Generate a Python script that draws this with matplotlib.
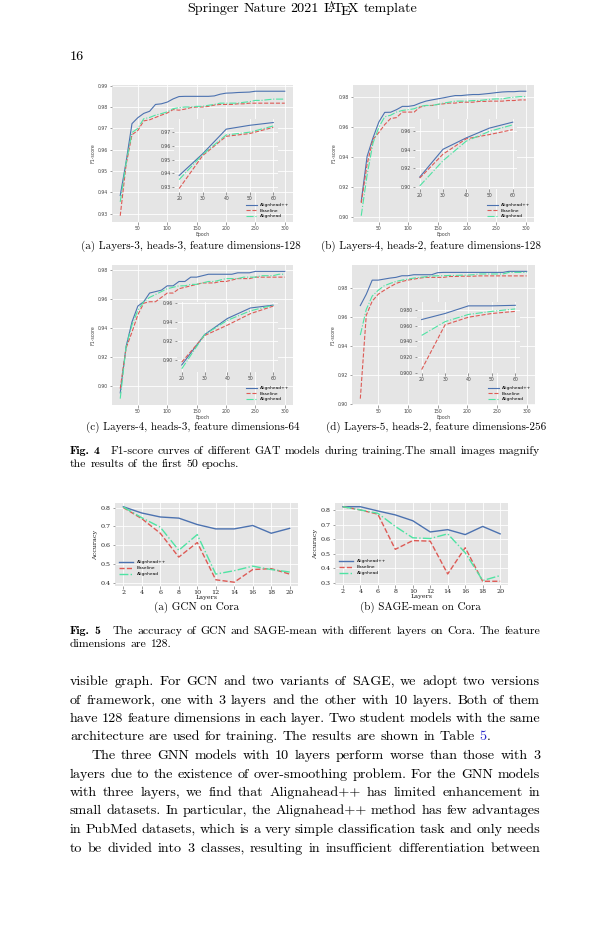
import math
import matplotlib
matplotlib.use("Agg")
import matplotlib.pyplot as plt
from matplotlib.ticker import FormatStrFormatter
from matplotlib.font_manager import FontProperties

W, H = 610, 925

# ---------------- data ----------------
epochs = [20, 30, 40, 50, 60, 70, 80, 90, 100, 110, 120, 130, 140, 150, 160,
          170, 180, 190, 200, 210, 220, 230, 240, 250, 260, 270, 280, 290, 300]
inset_n = 5
gat_xticks = [50, 100, 150, 200, 250, 300]
inset_xticks = [20, 30, 40, 50, 60]
series_labels = ["Alignhead++", "Baseline", "Alignhead"]

a_alignpp = [0.9385, 0.9543, 0.9722, 0.9750, 0.9770, 0.9780, 0.9812, 0.9815, 0.9823, 0.9838,
             0.9849, 0.9850, 0.9850, 0.9850, 0.9850, 0.9850, 0.9852, 0.9860, 0.9865, 0.9866,
             0.9868, 0.9869, 0.9870, 0.9874, 0.9874, 0.9874, 0.9874, 0.9874, 0.9874]
a_base = [0.9290, 0.9530, 0.9670, 0.9690, 0.9735, 0.9740, 0.9751, 0.9762, 0.9772, 0.9788,
          0.9785, 0.9790, 0.9797, 0.9800, 0.9800, 0.9803, 0.9809, 0.9812, 0.9812, 0.9812,
          0.9815, 0.9815, 0.9818, 0.9818, 0.9818, 0.9818, 0.9818, 0.9818, 0.9818]
a_align = [0.9355, 0.9538, 0.9680, 0.9700, 0.9745, 0.9751, 0.9762, 0.9769, 0.9777, 0.9792,
           0.9797, 0.9800, 0.9800, 0.9803, 0.9803, 0.9808, 0.9812, 0.9818, 0.9818, 0.9818,
           0.9818, 0.9822, 0.9825, 0.9831, 0.9831, 0.9834, 0.9837, 0.9837, 0.9837]

b_alignpp = [0.9106, 0.9406, 0.9529, 0.9635, 0.9699, 0.9700, 0.9717, 0.9739, 0.9739, 0.9745,
             0.9761, 0.9774, 0.9782, 0.9789, 0.9796, 0.9804, 0.9811, 0.9811, 0.9815, 0.9818,
             0.9818, 0.9822, 0.9826, 0.9831, 0.9835, 0.9837, 0.9837, 0.9840, 0.9840]
b_base = [0.9095, 0.9353, 0.9519, 0.9565, 0.9618, 0.9658, 0.9664, 0.9701, 0.9701, 0.9701,
          0.9734, 0.9745, 0.9745, 0.9752, 0.9756, 0.9761, 0.9761, 0.9767, 0.9767, 0.9767,
          0.9772, 0.9772, 0.9774, 0.9774, 0.9774, 0.9778, 0.9778, 0.9782, 0.9782]
b_align = [0.9010, 0.9282, 0.9494, 0.9600, 0.9670, 0.9680, 0.9701, 0.9712, 0.9717, 0.9723,
           0.9739, 0.9745, 0.9745, 0.9752, 0.9761, 0.9767, 0.9774, 0.9774, 0.9774, 0.9778,
           0.9778, 0.9782, 0.9787, 0.9789, 0.9789, 0.9796, 0.9800, 0.9804, 0.9804]

c_alignpp = [0.895, 0.927, 0.944, 0.955, 0.958, 0.964, 0.965, 0.966, 0.969, 0.969,
             0.972, 0.972, 0.975, 0.975, 0.976, 0.977, 0.977, 0.977, 0.977, 0.977,
             0.978, 0.978, 0.978, 0.979, 0.979, 0.979, 0.979, 0.979, 0.979]
c_base = [0.898, 0.926, 0.937, 0.949, 0.957, 0.958, 0.958, 0.961, 0.964, 0.964,
          0.967, 0.968, 0.969, 0.970, 0.971, 0.971, 0.971, 0.972, 0.972, 0.973,
          0.974, 0.974, 0.974, 0.975, 0.975, 0.975, 0.975, 0.975, 0.975]
c_align = [0.891, 0.927, 0.942, 0.952, 0.958, 0.961, 0.963, 0.965, 0.967, 0.968,
           0.969, 0.969, 0.970, 0.970, 0.971, 0.972, 0.972, 0.973, 0.974, 0.974,
           0.974, 0.975, 0.975, 0.975, 0.976, 0.976, 0.976, 0.977, 0.977]

d_alignpp = [0.9677, 0.9754, 0.9851, 0.9851, 0.9858, 0.9865, 0.9870, 0.9881, 0.9881, 0.9888,
             0.9888, 0.9888, 0.9888, 0.9902, 0.9904, 0.9904, 0.9904, 0.9904, 0.9904, 0.9904,
             0.9904, 0.9904, 0.9904, 0.9904, 0.9904, 0.9911, 0.9911, 0.9911, 0.9911]
d_base = [0.9040, 0.9610, 0.9707, 0.9754, 0.9781, 0.9805, 0.9828, 0.9842, 0.9851, 0.9858,
          0.9865, 0.9870, 0.9870, 0.9870, 0.9870, 0.9876, 0.9876, 0.9878, 0.9878, 0.9878,
          0.9880, 0.9880, 0.9880, 0.9880, 0.9880, 0.9880, 0.9880, 0.9880, 0.9880]
d_align = [0.9475, 0.9650, 0.9742, 0.9781, 0.9812, 0.9828, 0.9842, 0.9851, 0.9858, 0.9865,
           0.9870, 0.9874, 0.9879, 0.9881, 0.9881, 0.9883, 0.9883, 0.9885, 0.9885, 0.9888,
           0.9893, 0.9893, 0.9893, 0.9893, 0.9893, 0.9904, 0.9904, 0.9904, 0.9904]

a_yticks = [0.93, 0.94, 0.95, 0.96, 0.97, 0.98, 0.99]
a_inset_yticks = [0.93, 0.94, 0.95, 0.96, 0.97]
b_yticks = [0.90, 0.92, 0.94, 0.96, 0.98]
b_inset_yticks = [0.90, 0.92, 0.94, 0.96]
c_yticks = [0.90, 0.92, 0.94, 0.96, 0.98]
c_inset_yticks = [0.90, 0.92, 0.94, 0.96]
d_yticks = [0.90, 0.92, 0.94, 0.96, 0.98]
d_inset_yticks = [0.90, 0.92, 0.94, 0.96, 0.98]

layers = [2, 4, 6, 8, 10, 12, 14, 16, 18, 20]
gcn_alignpp = [0.804, 0.771, 0.750, 0.744, 0.710, 0.687, 0.687, 0.705, 0.664, 0.690]
gcn_base = [0.800, 0.741, 0.664, 0.538, 0.615, 0.418, 0.405, 0.472, 0.477, 0.448]
gcn_align = [0.803, 0.746, 0.696, 0.574, 0.657, 0.448, 0.466, 0.490, 0.472, 0.459]
sage_alignpp = [0.822, 0.822, 0.793, 0.766, 0.726, 0.649, 0.665, 0.631, 0.687, 0.636]
sage_base = [0.822, 0.800, 0.771, 0.530, 0.590, 0.586, 0.361, 0.541, 0.311, 0.311]
sage_align = [0.822, 0.800, 0.777, 0.687, 0.609, 0.604, 0.636, 0.507, 0.316, 0.350]

sub4 = ["(a) Layers-3, heads-3, feature dimensions-128",
        "(b) Layers-4, heads-2, feature dimensions-128",
        "(c) Layers-4, heads-3, feature dimensions-64",
        "(d) Layers-5, heads-2, feature dimensions-256"]
sub5 = ["(a) GCN on Cora", "(b) SAGE-mean on Cora"]
cap4 = ["F1-score curves of different GAT models during training.The small images magnify",
        "the results of the first 50 epochs."]
cap5 = ["The accuracy of GCN and SAGE-mean with different layers on Cora. The feature",
        "dimensions are 128."]
body = ["visible graph. For GCN and two variants of SAGE, we adopt two versions",
        "of framework, one with 3 layers and the other with 10 layers. Both of them",
        "have 128 feature dimensions in each layer. Two student models with the same",
        "architecture are used for training. The results are shown in Table",
        "The three GNN models with 10 layers perform worse than those with 3",
        "layers due to the existence of over-smoothing problem. For the GNN models",
        "with three layers, we find that Alignahead++ has limited enhancement in",
        "small datasets. In particular, the Alignahead++ method has few advantages",
        "in PubMed datasets, which is a very simple classification task and only needs",
        "to be divided into 3 classes, resulting in insufficient differentiation between"]

# ---------------- figure ----------------
fig = plt.figure(figsize=(W / 100, H / 100), dpi=100)
fig.patch.set_facecolor("white")
R = fig.canvas.get_renderer()
PT = 100 / 72.0

C_APP, C_BL, C_AH = "#4c72b0", "#dd5a55", "#4fe3a3"
SERIF = "cmr10"
BOLD = "cmb10"


def fx(x):
    return x / W


def fy(y):
    return 1 - y / H


def axes_px(x0, y0, x1, y1):
    return fig.add_axes([fx(x0), fy(y1), (x1 - x0) / W, (y1 - y0) / H])


def style(ax, lsize, lcolor, family="DejaVu Sans"):
    ax.set_facecolor("#e5e5e5")
    ax.grid(True, color="white", linewidth=0.6)
    ax.set_axisbelow(True)
    for s in ax.spines.values():
        s.set_visible(False)
    ax.tick_params(which="both", length=1.8, width=0.4, color="#555555",
                   labelsize=lsize, labelcolor=lcolor, pad=1,
                   labelfontfamily=family)


def gat_panel(rect, ys, yticks, iyticks, inset_rect, ifmt=None):
    ax = axes_px(*rect)
    style(ax, 3.3, "#444444")
    styles = [(C_APP, "-"), (C_BL, "--"), (C_AH, "-.")]
    for y, (c, ls), lab in zip(ys, styles, series_labels):
        ax.plot(epochs, y, color=c, ls=ls, lw=0.8, label=lab)
    ax.set_xticks(gat_xticks)
    ax.set_yticks(yticks)
    ax.set_xlabel("Epoch", fontsize=3.3, labelpad=1, color="#444444")
    ax.set_ylabel("F1-score", fontsize=3.3, labelpad=2, color="#444444")
    ax.legend(loc="lower right", fontsize=3.2, frameon=False, handlelength=2.6,
              labelspacing=0.35, borderaxespad=0.4, handletextpad=0.6)
    ins = ax.inset_axes(inset_rect)
    style(ins, 3.3, "#444444")
    for y, (c, ls) in zip(ys, styles):
        ins.plot(epochs[:inset_n], y[:inset_n], color=c, ls=ls, lw=0.8)
    ins.set_xticks(inset_xticks)
    ins.set_yticks(iyticks)
    if ifmt:
        ins.yaxis.set_major_formatter(FormatStrFormatter(ifmt))
    return ax


gat_panel((112, 85, 293, 222), [a_alignpp, a_base, a_align], a_yticks, a_inset_yticks,
          [0.345, 0.22, 0.572, 0.53])
gat_panel((353, 85, 534, 222), [b_alignpp, b_base, b_align], b_yticks, b_inset_yticks,
          [0.343, 0.24, 0.565, 0.512])
gat_panel((112, 265, 293, 405), [c_alignpp, c_base, c_align], c_yticks, c_inset_yticks,
          [0.36, 0.236, 0.556, 0.5])
gat_panel((352, 265, 535, 405), [d_alignpp, d_base, d_align], d_yticks, d_inset_yticks,
          [0.355, 0.23, 0.563, 0.505], ifmt="%.3f")


def layer_panel(rect, ys):
    ax = axes_px(*rect)
    style(ax, 4.6, "#222222", family="DejaVu Serif")
    styles = [(C_APP, "-"), (C_BL, "--"), (C_AH, "-.")]
    for y, (c, ls), lab in zip(ys, styles, series_labels):
        ax.plot(layers, y, color=c, ls=ls, lw=1.0, label=lab)
    ax.set_xticks(layers)
    ax.set_xlabel("Layers", fontsize=4.6, labelpad=0.3, family="DejaVu Serif", color="#222222")
    ax.set_ylabel("Accuracy", fontsize=4.6, labelpad=2, family="DejaVu Serif", color="#222222")
    ax.legend(loc="lower left", bbox_to_anchor=(0.0, 0.07), fontsize=3.2, frameon=False,
              handlelength=3.2, labelspacing=0.4, handletextpad=0.8)
    return ax


layer_panel((115, 503, 298, 586), [gcn_alignpp, gcn_base, gcn_align])
layer_panel((335, 503, 508, 585), [sage_alignpp, sage_base, sage_align])


# ---------------- text helpers ----------------
_cache = {}


def metrics(s, size, family=SERIF):
    key = (s, round(size, 4), family)
    if key not in _cache:
        fp = FontProperties(family=family, size=size)
        _cache[key] = R.get_text_width_height_descent(s, fp, ismath=False)
    return _cache[key]


def tw(s, size, family=SERIF):
    return metrics(s, size, family)[0]


def put(x, yb, s, size, family=SERIF, color="black", ha="left"):
    """Place text with its baseline snapped so that every word sits on the same pixel row."""
    w, h, d = metrics(s, size, family)
    yt = round(yb)
    ybp = yt + math.floor(h) - math.floor(h - d) - d
    fig.text(fx(x), fy(ybp), s, fontsize=size, family=family, color=color,
             va="baseline", ha=ha)
    return w


def natural(words, size, family=SERIF):
    return sum(tw(w, size, family) for w in words) + 0.333 * size * PT * (len(words) - 1)


def draw_words(tokens, x0, x1, yb, size, justify=True):
    """tokens: list of (text, family, color, glue_before)."""
    ws = [tw(t, size, f) for t, f, c, g in tokens]
    glue = sum(g for _, _, _, g in tokens[1:])
    sp = 0.333 * size * PT
    unit = (x1 - x0 - sum(ws)) / glue if (justify and glue > 0) else sp
    x = x0
    for i, ((t, f, c, g), w) in enumerate(zip(tokens, ws)):
        if i > 0:
            x += unit * g
        put(x, yb, t, size, family=f, color=c)
        x += w


def toks(line, family=SERIF, color="black"):
    return [(w, family, color, 1.0) for w in line.split(" ")]


X0, X1 = 70, 540
TW = X1 - X0

# fit body size (mean natural width of justified lines = text width)
just_idx = [0, 1, 2, 4, 5, 6, 7, 8, 9]
nat = []
for i in just_idx:
    v = natural(body[i].split(" "), 10)
    if i == 4:
        v += 1.5 * 10 * PT
    nat.append(v)
body_size = 10 * TW * 0.997 / (sum(nat) / len(nat))

# fit caption size
fig_w10 = tw("Fig.", 10, BOLD) + tw("4", 10, BOLD) + 0.35 * 10 * PT + 1.0 * 10 * PT
cap_nat = (natural(cap4[0].split(" "), 10) + natural(cap5[0].split(" "), 10)) / 2 + fig_w10
cap_size = 10 * TW * 0.997 / cap_nat
sub_size = cap_size * 0.94


def draw_header(xc, yb, size):
    em = size * PT
    pieces = [("Springer", size, 0.0, 0.0),
              ("Nature", size, 0.333, 0.0),
              ("2021", size, 0.333, 0.0),
              ("L", size, 0.333, 0.0),
              ("A", size * 0.7, -0.36, 0.2),
              ("T", size, -0.15, 0.0),
              ("E", size, -0.1667, -0.215),
              ("X", size, -0.125, 0.0),
              ("template", size, 0.333, 0.0)]
    widths = [tw(p, s) for p, s, _, _ in pieces]
    total = sum(widths) + sum(k * em for _, _, k, _ in pieces)
    x = xc - total / 2
    for (p, s, k, dy), w in zip(pieces, widths):
        x += k * em
        put(x, yb - dy * em, p, s)
        x += w


draw_header(302, 12, body_size)
put(X0, 60, "16", body_size)

# subcaptions
for txt, xc, yb in zip(sub4, [191, 431, 193, 436], [249, 249, 430, 430]):
    put(xc, yb, txt, sub_size, ha="center")
for txt, xc in zip(sub5, [197, 420]):
    put(xc, 609.5, txt, sub_size, ha="center")


# figure captions
def caption(num, lines, yb1, yb2):
    t = [("Fig.", BOLD, "black", 0), (str(num), BOLD, "black", 1.0)]
    rest = toks(lines[0])
    rest[0] = (rest[0][0], SERIF, "black", 3.0)
    draw_words(t + rest, X0, X1, yb1, cap_size, True)
    draw_words(toks(lines[1]), X0, X1, yb2, cap_size, False)


caption(4, cap4, 454, 467)
caption(5, cap5, 634, 647)

# body text
y0, dy = 685, 18.5
for i, line in enumerate(body):
    yb = y0 + i * dy
    if i == 3:
        t = toks(line) + [("5", SERIF, "#2a2acc", 1.0), (".", SERIF, "black", 0)]
        draw_words(t, X0, X1, yb, body_size, False)
    elif i == 4:
        ind = 1.5 * body_size * PT
        draw_words(toks(line), X0 + ind, X1, yb, body_size, True)
    else:
        draw_words(toks(line), X0, X1, yb, body_size, True)

fig.savefig("out.png", dpi=100, facecolor="white")
